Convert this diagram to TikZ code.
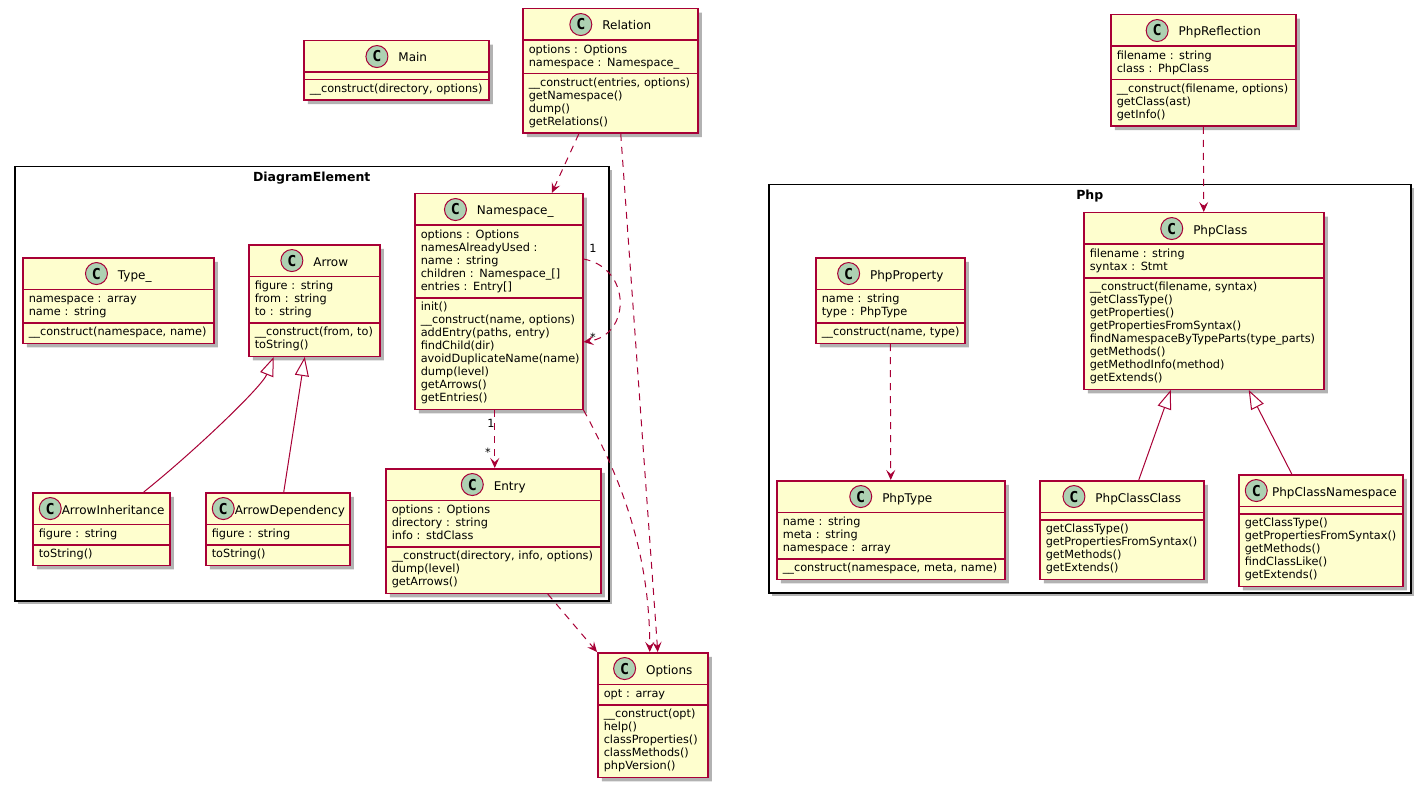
\documentclass[tikz,border=0pt]{standalone}
\usepackage{fontspec}
\setmainfont{DejaVu Sans}
\newfontfamily\spotfont{DejaVu Sans Mono}
\usetikzlibrary{shapes.multipart, shadows, arrows.meta, positioning}

\definecolor{umlred}{HTML}{A80036}
\definecolor{umlfill}{HTML}{FEFECE}
\definecolor{umlspot}{HTML}{ADD1B2}

\newcommand\membfont{\fontsize{11.3}{13}\selectfont}
\newcommand\namefont{\fontsize{12}{14}\selectfont}
\newcommand\classspot{\tikz[baseline=(s.base)] \node[spot] (s) {C};}
\newcommand\classhead[1]{\hbox to\hsize{\hfil\rule[-6.5pt]{0pt}{24pt}\smash{\classspot}\hskip 10pt minus 10pt{\namefont #1}\hfil}}
\newcommand\rows[1]{\begin{tabular}[t]{@{}l@{}}#1\end{tabular}}

\tikzset{
    spot/.style={circle, minimum size=22pt, inner sep=0pt, fill=umlspot, draw=umlred, line width=1pt,
        font=\spotfont\bfseries\fontsize{15}{15}\selectfont},
    classbox/.style={rectangle split, rectangle split parts=3,
        rectangle split empty part height=0pt, rectangle split empty part depth=0pt,
        draw=umlred, line width=1.5pt, fill=umlfill, inner xsep=6pt, inner ysep=3pt,
        anchor=north west, align=left, font=\membfont,
        drop shadow={shadow xshift=4pt, shadow yshift=-4pt, opacity=0.3, fill=black}},
    package/.style={draw=black, line width=1.5pt, fill=white, inner sep=0pt, anchor=north west,
        drop shadow={shadow xshift=3pt, shadow yshift=-3pt, opacity=0.3, fill=black}},
    pkgtitle/.style={inner sep=0pt, font=\fontsize{12.5}{15}\selectfont\bfseries},
    dep/.style={draw=umlred, line width=1pt, dash pattern=on 7pt off 6pt,
        -{Stealth[length=10pt, width=9pt, inset=4pt]}},
    inh/.style={draw=umlred, line width=1pt, -{Triangle[open, length=19pt, width=14pt]}},
    mult/.style={inner sep=0pt, font=\membfont},
}

\begin{document}
\begin{tikzpicture}[x=1pt, y=-1pt]
    \useasboundingbox (0,0) rectangle (1420,786);

    % packages
    \node[package, minimum width=594pt, minimum height=434pt] (diagramelement) at (14,166) {};
    \node[pkgtitle, below=5.5pt of diagramelement.north] (diagramtitle) {DiagramElement};
    \node[package, minimum width=642pt, minimum height=408pt] (php) at (768,184) {};
    \node[pkgtitle, below=5.5pt of php.north] (phptitle) {Php};

    % classes outside the packages
    \node[classbox, text width=173pt] (main) at (303,40) {\classhead{Main}
        \nodepart{two}
        \nodepart{three}\rows{\_\_construct(directory, options)}};
    \node[classbox, text width=163pt] (relation) at (522,8) {\classhead{Relation}
        \nodepart{two}\rows{options : Options\\ namespace : Namespace\_}
        \nodepart{three}\rows{\_\_construct(entries, options)\\ getNamespace()\\ dump()\\ getRelations()}};
    \node[classbox, text width=173pt] (phpreflection) at (1110,14) {\classhead{PhpReflection}
        \nodepart{two}\rows{filename : string\\ class : PhpClass}
        \nodepart{three}\rows{\_\_construct(filename, options)\\ getClass(ast)\\ getInfo()}};
    \node[classbox, text width=98pt] (options) at (597,652) {\classhead{Options}
        \nodepart{two}\rows{opt : array}
        \nodepart{three}\rows{\_\_construct(opt)\\ help()\\ classProperties()\\ classMethods()\\ phpVersion()}};

    % DiagramElement
    \node[classbox, text width=179pt] (type) at (22,257) {\classhead{Type\_}
        \nodepart{two}\rows{namespace : array\\ name : string}
        \nodepart{three}\rows{\_\_construct(namespace, name)}};
    \node[classbox, text width=119pt] (arrow) at (248,244) {\classhead{Arrow}
        \nodepart{two}\rows{figure : string\\ from : string\\ to : string}
        \nodepart{three}\rows{\_\_construct(from, to)\\ toString()}};
    \node[classbox, text width=156pt] (namespace) at (414,193) {\classhead{Namespace\_}
        \nodepart{two}\rows{options : Options\\ namesAlreadyUsed :\\ name : string\\ children : Namespace\_[]\\ entries : Entry[]}
        \nodepart{three}\rows{init()\\ \_\_construct(name, options)\\ addEntry(paths, entry)\\ findChild(dir)\\ avoidDuplicateName(name)\\ dump(level)\\ getArrows()\\ getEntries()}};
    \node[classbox, text width=125pt] (arrowinh) at (32,492) {\classhead{ArrowInheritance}
        \nodepart{two}\rows{figure : string}
        \nodepart{three}\rows{toString()}};
    \node[classbox, text width=132pt] (arrowdep) at (205,492) {\classhead{ArrowDependency}
        \nodepart{two}\rows{figure : string}
        \nodepart{three}\rows{toString()}};
    \node[classbox, text width=203pt] (entry) at (385,468) {\classhead{Entry}
        \nodepart{two}\rows{options : Options\\ directory : string\\ info : stdClass}
        \nodepart{three}\rows{\_\_construct(directory, info, options)\\ dump(level)\\ getArrows()}};

    % Php
    \node[classbox, text width=137pt] (phpproperty) at (815,257) {\classhead{PhpProperty}
        \nodepart{two}\rows{name : string\\ type : PhpType}
        \nodepart{three}\rows{\_\_construct(name, type)}};
    \node[classbox, text width=228pt] (phpclass) at (1083,212) {\classhead{PhpClass}
        \nodepart{two}\rows{filename : string\\ syntax : Stmt}
        \nodepart{three}\rows{\_\_construct(filename, syntax)\\ getClassType()\\ getProperties()\\ getPropertiesFromSyntax()\\ findNamespaceByTypeParts(type\_parts)\\ getMethods()\\ getMethodInfo(method)\\ getExtends()}};
    \node[classbox, text width=216pt] (phptype) at (776,480) {\classhead{PhpType}
        \nodepart{two}\rows{name : string\\ meta : string\\ namespace : array}
        \nodepart{three}\rows{\_\_construct(namespace, meta, name)}};
    \node[classbox, text width=152pt] (phpclassclass) at (1039,480) {\classhead{PhpClassClass}
        \nodepart{two}
        \nodepart{three}\rows{getClassType()\\ getPropertiesFromSyntax()\\ getMethods()\\ getExtends()}};
    \node[classbox, text width=152pt] (phpclassns) at (1238,474) {\classhead{PhpClassNamespace}
        \nodepart{two}
        \nodepart{three}\rows{getClassType()\\ getPropertiesFromSyntax()\\ getMethods()\\ findClassLike()\\ getExtends()}};

    % dependencies
    \draw[dep] ([xshift=-31.5pt]relation.south) -- ([xshift=53pt]namespace.north);
    \draw[dep] ([xshift=10.5pt]relation.south) -- ([xshift=5pt]options.north);
    \draw[dep] ([yshift=-66pt]namespace.north east) .. controls +(48,9) and +(48,-7) .. ([yshift=-149pt]namespace.north east);
    \node[mult] (loopone) at (593,248) {1};
    \node[mult] (loopmany) at (593,337) {*};
    \draw[dep] ([xshift=-4pt]namespace.south) -- ([xshift=-4pt]namespace.south |- entry.north);
    \node[mult] (entryone) at (491,423) {1};
    \node[mult] (entrymany) at (488,452) {*};
    \draw[dep] (namespace.south east) .. controls +(30,55) and +(0,-110) .. ([xshift=-3pt]options.north);
    \draw[dep] ([xshift=54.5pt]entry.south) -- (options.north west);
    \draw[dep] (phpreflection.south) -- (phpclass.north);
    \draw[dep] (phpproperty.south) -- (phptype.north);

    % inheritance
    \draw[inh] ([xshift=42.5pt]arrowinh.north) .. controls +(50,-40) and +(-12,30) .. ([xshift=-40.5pt]arrow.south);
    \draw[inh] ([xshift=6pt]arrowdep.north) -- ([xshift=-9.5pt]arrow.south);
    \draw[inh] ([xshift=17pt]phpclassclass.north) -- ([xshift=-33pt]phpclass.south);
    \draw[inh] ([xshift=-29pt]phpclassns.north) -- ([xshift=45pt]phpclass.south);
\end{tikzpicture}
\end{document}
